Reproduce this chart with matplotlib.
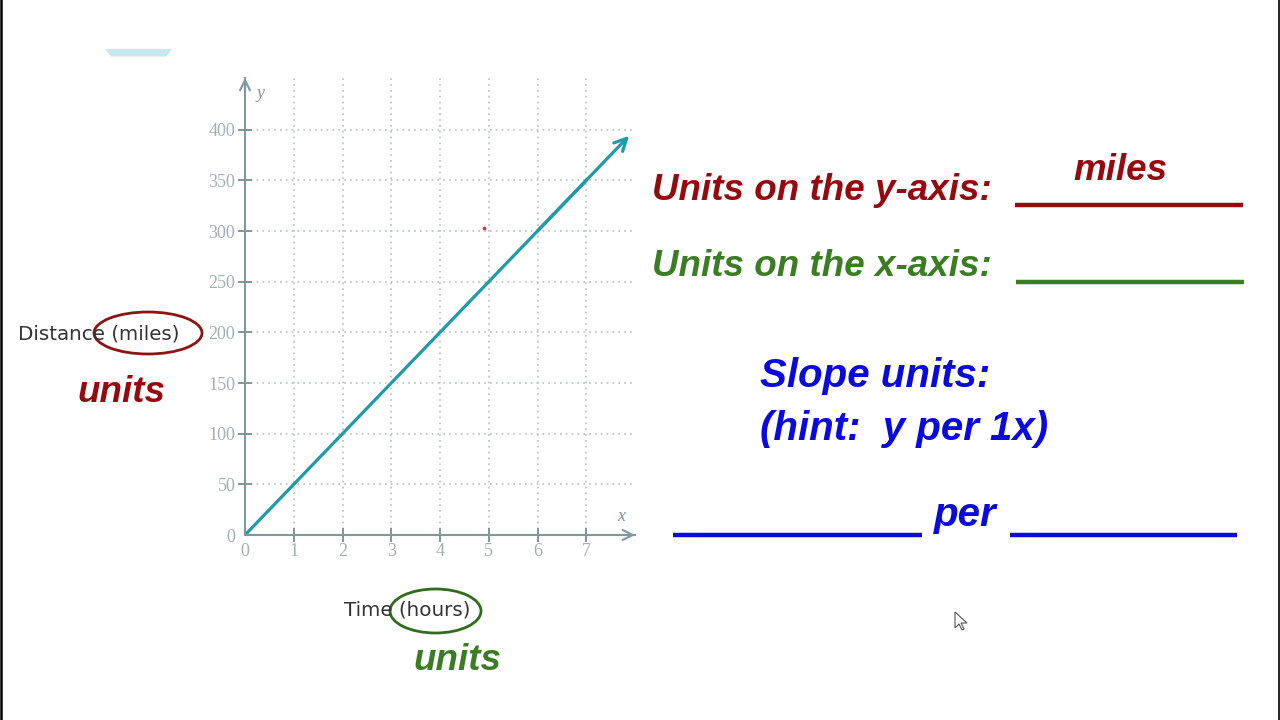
import matplotlib
matplotlib.use("Agg")
import matplotlib.pyplot as plt
from matplotlib.patches import Ellipse, Polygon
from matplotlib.lines import Line2D

W, H = 1280, 720

# data
hours = [0, 1, 2, 3, 4, 5, 6, 7, 7.88]
miles = [0, 50, 100, 150, 200, 250, 300, 350, 394]
x_ticks = [0, 1, 2, 3, 4, 5, 6, 7]
y_ticks = [0, 50, 100, 150, 200, 250, 300, 350, 400]
stray_dot = (4.91, 303)

RED = "#960a0f"
GREEN = "#3b7d23"
BLUE = "#0a0ade"
TEAL = "#1f9aab"
AXIS = "#7f989d"
TICKTXT = "#9fb0b4"
GRID = "#b3c0c3"


def px(x, y):
    return x / W, 1 - y / H


def blank(x0, x1, y, color):
    # answer line drawn on the slide
    fig.add_artist(Line2D([x0 / W, x1 / W], [1 - y / H, 1 - y / H],
                          transform=fig.transFigure, color=color, lw=3.2,
                          solid_capstyle="butt"))


fig = plt.figure(figsize=(12.8, 7.2), dpi=100)
fig.patch.set_facecolor("white")

ax = fig.add_axes([245 / W, (H - 535) / H, 390 / W, 457 / H])
ax.set_xlim(0, 8.0)
ax.set_ylim(0, 451)
for s in ("top", "right"):
    ax.spines[s].set_visible(False)
for s in ("left", "bottom"):
    ax.spines[s].set_color(AXIS)
    ax.spines[s].set_linewidth(1.5)

ax.set_xticks(x_ticks)
ax.set_yticks(y_ticks)
ax.set_xticklabels([str(v) for v in x_ticks])
ax.set_yticklabels([str(v) for v in y_ticks])
ax.tick_params(direction="inout", length=10, width=1.4, color=AXIS,
               labelcolor=TICKTXT, labelsize=13)
ax.tick_params(axis="x", pad=1)
ax.tick_params(axis="y", pad=2)
for lab in ax.get_xticklabels() + ax.get_yticklabels():
    lab.set_family("Liberation Serif")
ax.xaxis.get_major_ticks()[0].tick1line.set_visible(False)
ax.yaxis.get_major_ticks()[0].tick1line.set_visible(False)
ax.grid(True, linestyle=(0, (1, 2.5)), color=GRID, linewidth=1.2)
ax.set_axisbelow(True)

# axis arrowheads
ax.annotate("", xy=(1.0, 0), xytext=(0.97, 0), xycoords="axes fraction",
            arrowprops=dict(arrowstyle="->", color=AXIS, lw=1.5,
                            mutation_scale=18, shrinkA=0, shrinkB=0),
            annotation_clip=False)
ax.annotate("", xy=(0, 1.0), xytext=(0, 0.97), xycoords="axes fraction",
            arrowprops=dict(arrowstyle="->", color=AXIS, lw=1.5,
                            mutation_scale=18, shrinkA=0, shrinkB=0),
            annotation_clip=False)
ax.text(0.03, 0.965, "y", transform=ax.transAxes, family="Liberation Serif",
        style="italic", fontsize=13, color=AXIS, va="center")
ax.text(0.955, 0.04, "x", transform=ax.transAxes, family="Liberation Serif",
        style="italic", fontsize=13, color=AXIS, va="center")

# the line with arrow
ax.plot(hours[:-1], miles[:-1], color=TEAL, lw=2.3, solid_capstyle="butt")
ax.annotate("", xy=(hours[-1], miles[-1]), xytext=(hours[-3], miles[-3]),
            arrowprops=dict(arrowstyle="->", color=TEAL, lw=2.3,
                            mutation_scale=22, shrinkA=0, shrinkB=0),
            annotation_clip=False)
ax.plot(*stray_dot, marker="o", markersize=1.6, color="#e03030", lw=0)

# left labels
fig.text(*px(18, 340), "Distance (miles)", fontsize=14.3, color="#333333",
         family="DejaVu Sans", va="baseline")
fig.add_artist(Ellipse(px(148, 333), 108 / W, 42 / H, transform=fig.transFigure,
                       fill=False, edgecolor="#8e1414", lw=2))
fig.text(*px(121, 402), "units", fontsize=26.5, color=RED, family="Liberation Sans",
         weight="bold", style="italic", ha="center", va="baseline")

fig.text(*px(344, 615), "Time (hours)", fontsize=14.3, color="#333333",
         family="DejaVu Sans", va="baseline")
fig.add_artist(Ellipse(px(435.5, 611), 91 / W, 44 / H, transform=fig.transFigure,
                       fill=False, edgecolor="#2f6c1d", lw=2))
fig.text(*px(457, 670), "units", fontsize=26.5, color=GREEN, family="Liberation Sans",
         weight="bold", style="italic", ha="center", va="baseline")

# right-hand text
bold = dict(family="Liberation Sans", weight="bold", style="italic", va="baseline")
fig.text(*px(652, 200), "Units on the y-axis:", color=RED, fontsize=26.5, **bold)
blank(1015, 1243, 204.5, RED)
fig.text(*px(1120, 180), "miles", color=RED, ha="center", fontsize=26.5, **bold)
fig.text(*px(652, 276), "Units on the x-axis:", color=GREEN, fontsize=26.5, **bold)
blank(1016, 1244, 282, GREEN)
fig.text(*px(760, 387), "Slope units:", color=BLUE, fontsize=29, **bold)
fig.text(*px(760, 440), "(hint:  y per 1x)", color=BLUE, fontsize=29, **bold)
blank(673, 922, 534.5, BLUE)
fig.text(*px(934, 526), "per", color=BLUE, fontsize=29, **bold)
blank(1010, 1237, 534.5, BLUE)

# decorations from the slide
fig.add_artist(Polygon([px(105, 49), px(172, 49), px(166, 56.5), px(111, 56.5)],
                       closed=True, transform=fig.transFigure,
                       facecolor="#c6e8ec", edgecolor="none"))
cursor = [(955, 612), (955, 628), (959, 624), (962, 630), (964, 629),
          (961, 623), (967, 623)]
fig.add_artist(Polygon([px(*p) for p in cursor], closed=True,
                       transform=fig.transFigure, facecolor="white",
                       edgecolor="#555555", lw=0.8))
fig.add_artist(Line2D([1 / W, 1 / W], [0, 1], transform=fig.transFigure,
                      color="black", lw=1.8))
fig.add_artist(Line2D([1278.5 / W, 1278.5 / W], [0, 1], transform=fig.transFigure,
                      color="black", lw=1.2))

fig.savefig("out.png", dpi=100)
